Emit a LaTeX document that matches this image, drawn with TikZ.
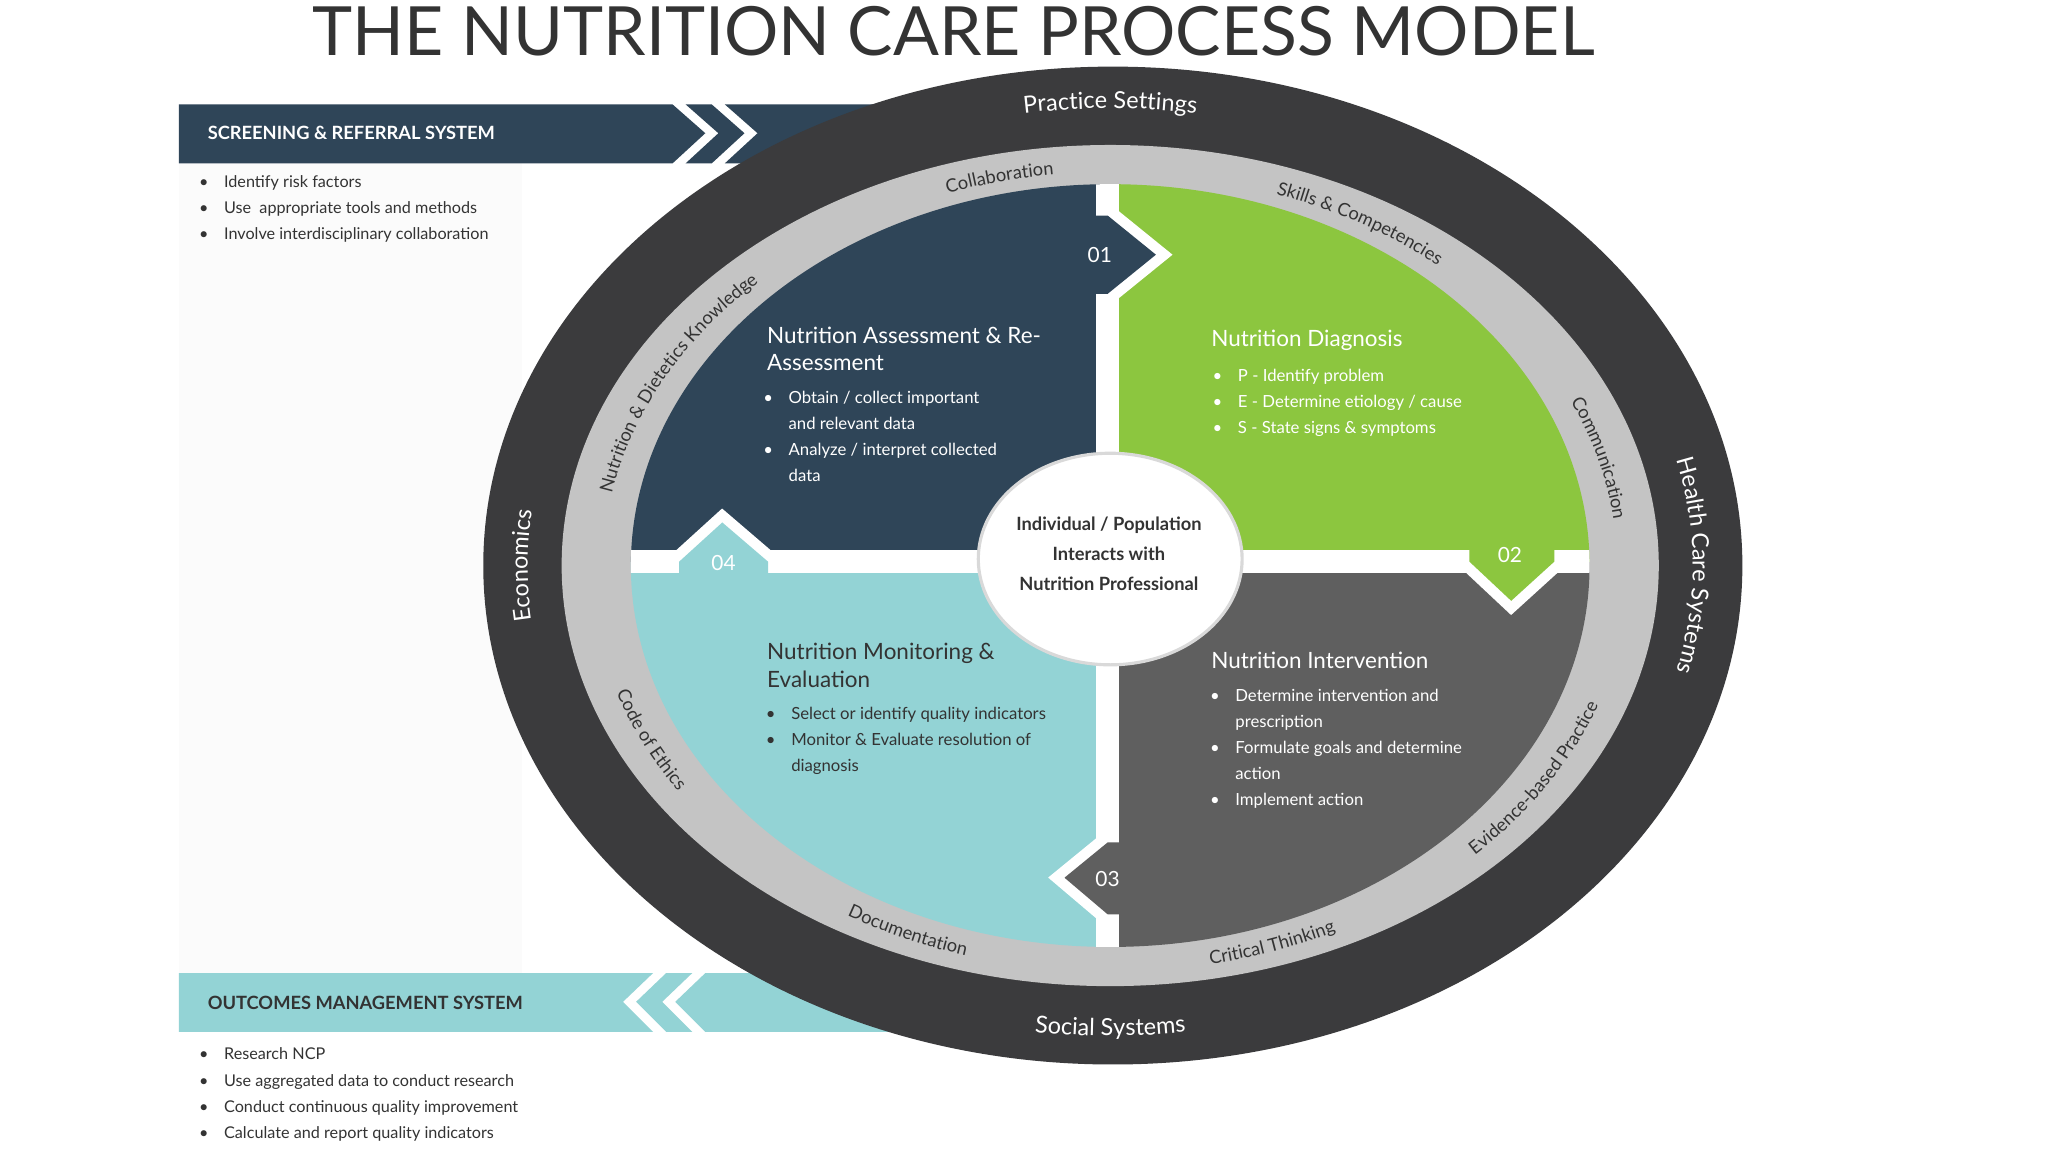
\documentclass[tikz,border=0pt]{standalone}
\usepackage{fontspec}
\setmainfont{Lato}
\usetikzlibrary{decorations.text}
\definecolor{navy}{HTML}{2F4558}
\definecolor{grn}{HTML}{8CC63F}
\definecolor{qgray}{HTML}{5F5F5F}
\definecolor{teal}{HTML}{93D3D5}
\definecolor{ringdark}{HTML}{3B3B3D}
\definecolor{ringgray}{HTML}{C4C4C4}
\definecolor{txt}{HTML}{333333}
\newcommand{\bl}{\textbullet\hspace{6pt}}
\newcommand{\cl}{\phantom{\textbullet}\hspace{6pt}}
\tikzset{
  fs/.style={font=\fontsize{#1}{#1}\selectfont},
  qtitle/.style={anchor=north west,align=left,font=\fontsize{8.6}{10.5}\selectfont,inner sep=0},
  blt/.style={anchor=north west,align=left,font=\fontsize{6.4}{10}\selectfont,inner sep=0},
  num/.style={font=\fontsize{8}{8}\selectfont,inner sep=0},
  ringlab/.style={decorate,decoration={text along path,text align=center,text={#1}}},
}
\begin{document}
\begin{tikzpicture}[x=0.5pt,y=0.5pt]
\useasboundingbox (0,0) rectangle (1568,-882);
\fill[white] (0,0) rectangle (1568,-882);
% left light panel
\fill[gray!3] (137,-125) rectangle (400,-745);
% title
\node[fs=26,text=txt] (title) at (730,-24) {THE NUTRITION CARE PROCESS MODEL};
% top banner
\fill[navy] (137,-80)--(515,-80)--(540,-102)--(515,-125)--(137,-125)--cycle;
\fill[navy] (525,-80)--(545,-80)--(570,-102)--(545,-125)--(525,-125)--(550,-102)--cycle;
\fill[navy] (555,-80)--(720,-80)--(720,-125)--(555,-125)--(580,-102)--cycle;
% bottom banner
\fill[teal] (137,-745)--(500,-745)--(477,-767)--(500,-790)--(137,-790)--cycle;
\fill[teal] (510,-745)--(530,-745)--(507,-767)--(530,-790)--(510,-790)--(487,-767)--cycle;
\fill[teal] (540,-745)--(720,-745)--(720,-790)--(540,-790)--(517,-767)--cycle;
% rings
\fill[ringdark] (852,-433) ellipse [x radius=482,y radius=382];
\fill[ringgray] (850,-433) ellipse [x radius=420,y radius=322];
% quadrants
\begin{scope}
\clip (850,-433) ellipse [x radius=367,y radius=292];
\fill[navy] (400,-100) rectangle (848,-430);
\fill[grn] (848,-100) rectangle (1300,-430);
\fill[qgray] (848,-430) rectangle (1300,-800);
\fill[teal] (400,-430) rectangle (848,-800);
\draw[white,line width=9] (848,-100)--(848,-800);
\draw[white,line width=9] (400,-430)--(1300,-430);
\draw[white,line width=8] (848,-165)--(885,-195)--(848,-225);
\fill[navy] (838,-165)--(848,-165)--(885,-195)--(848,-225)--(838,-225)--cycle;
\draw[white,line width=8] (1125,-430)--(1157,-460)--(1190,-430);
\fill[grn] (1125,-420)--(1125,-430)--(1157,-460)--(1190,-430)--(1190,-420)--cycle;
\draw[white,line width=8] (848,-645)--(815,-672)--(848,-700);
\fill[qgray] (858,-645)--(848,-645)--(815,-672)--(848,-700)--(858,-700)--cycle;
\draw[white,line width=8] (520,-430)--(553,-400)--(588,-430);
\fill[teal] (520,-440)--(520,-430)--(553,-400)--(588,-430)--(588,-440)--cycle;
\end{scope}
% center
\coordinate (ctr) at (850,-428);
\fill[white,draw=gray!30,line width=1.2] (ctr) ellipse [x radius=101,y radius=81];
\node[align=center,font=\fontsize{7}{11.5}\selectfont\bfseries,text=txt] (ctrtxt) at (849,-424) {Individual / Population\\Interacts with\\Nutrition Professional};
% numbers
\node[num,text=white] (n1) at (842,-195) {01};
\node[num,text=white] (n2) at (1156,-425) {02};
\node[num,text=white] (n3) at (848,-673) {03};
\node[num,text=white] (n4) at (554,-431) {04};
% outer ring labels
\path[ringlab={|\fontsize{9}{9}\selectfont\color{white}|Practice Settings}] (850,-433) ++(130:446 and 350) arc[start angle=130,end angle=50,x radius=446,y radius=350];
\path[ringlab={|\fontsize{9}{9}\selectfont\color{white}|Social Systems}] (850,-433) ++(230:458 and 360) arc[start angle=230,end angle=310,x radius=458,y radius=360];
\path[ringlab={|\fontsize{9}{9}\selectfont\color{white}|Health Care Systems}] (850,-433) ++(30:446 and 348) arc[start angle=30,end angle=-30,x radius=446,y radius=348];
\path[ringlab={|\fontsize{9}{9}\selectfont\color{white}|Economics}] (850,-433) ++(210:446 and 348) arc[start angle=210,end angle=150,x radius=446,y radius=348];
% gray ring labels
\path[ringlab={|\fontsize{7}{7}\selectfont\color{txt}|Collaboration}] (850,-433) ++(128:388 and 301) arc[start angle=128,end angle=78,x radius=388,y radius=301];
\path[ringlab={|\fontsize{7}{7}\selectfont\color{txt}|Skills {\&} Competencies}] (850,-433) ++(90:388 and 301) arc[start angle=90,end angle=28,x radius=388,y radius=301];
\path[ringlab={|\fontsize{7}{7}\selectfont\color{txt}|Communication}] (850,-433) ++(40:388 and 301) arc[start angle=40,end angle=-10,x radius=388,y radius=301];
\path[ringlab={|\fontsize{7}{7}\selectfont\color{txt}|Nutrition {\&} Dietetics Knowledge}] (850,-433) ++(186:388 and 301) arc[start angle=186,end angle=120,x radius=388,y radius=301];
\path[ringlab={|\fontsize{7}{7}\selectfont\color{txt}|Evidence-based Practice}] (850,-433) ++(-65:398 and 311) arc[start angle=-65,end angle=3,x radius=398,y radius=311];
\path[ringlab={|\fontsize{7}{7}\selectfont\color{txt}|Critical Thinking}] (850,-433) ++(-96:398 and 311) arc[start angle=-96,end angle=-46,x radius=398,y radius=311];
\path[ringlab={|\fontsize{7}{7}\selectfont\color{txt}|Documentation}] (850,-433) ++(-139:398 and 311) arc[start angle=-139,end angle=-89,x radius=398,y radius=311];
\path[ringlab={|\fontsize{7}{7}\selectfont\color{txt}|Code of Ethics}] (850,-433) ++(180:398 and 311) arc[start angle=180,end angle=230,x radius=398,y radius=311];
% quadrant texts
\node[qtitle,text=white] (t1) at (587,-250) {Nutrition Assessment \& Re-\\Assessment};
\node[blt,text=white] (b1) at (584,-299) {\bl Obtain / collect important\\\cl and relevant data\\\bl Analyze / interpret collected\\\cl data};
\node[qtitle,text=white] (t2) at (927,-252) {Nutrition Diagnosis};
\node[blt,text=white] (b2) at (928,-282) {\bl P - Identify problem\\\bl E - Determine etiology / cause\\\bl S - State signs \& symptoms};
\node[qtitle,text=white] (t3) at (927,-499) {Nutrition Intervention};
\node[blt,text=white] (b3) at (926,-527) {\bl Determine intervention and\\\cl prescription\\\bl Formulate goals and determine\\\cl action\\\bl Implement action};
\node[qtitle,text=txt] (t4) at (587,-492) {Nutrition Monitoring \&\\Evaluation};
\node[blt,text=txt] (b4) at (586,-541) {\bl Select or identify quality indicators\\\bl Monitor \& Evaluate resolution of\\\cl diagnosis};
% side texts
\node[anchor=west,font=\fontsize{7}{7}\selectfont\bfseries,text=white] (scr) at (152,-102) {SCREENING \& REFERRAL SYSTEM};
\node[blt,text=txt,font=\fontsize{6.2}{10}\selectfont] (scrb) at (152,-134) {\bl Identify risk factors\\\bl Use\ \ appropriate tools and methods\\\bl Involve interdisciplinary collaboration};
\node[anchor=west,font=\fontsize{7}{7}\selectfont\bfseries,text=txt] (out) at (152,-768) {OUTCOMES MANAGEMENT SYSTEM};
\node[blt,text=txt,font=\fontsize{6.2}{10}\selectfont] (outb) at (152,-802) {\bl Research NCP\\\bl Use aggregated data to conduct research\\\bl Conduct continuous quality improvement\\\bl Calculate and report quality indicators};
\end{tikzpicture}
\end{document}
